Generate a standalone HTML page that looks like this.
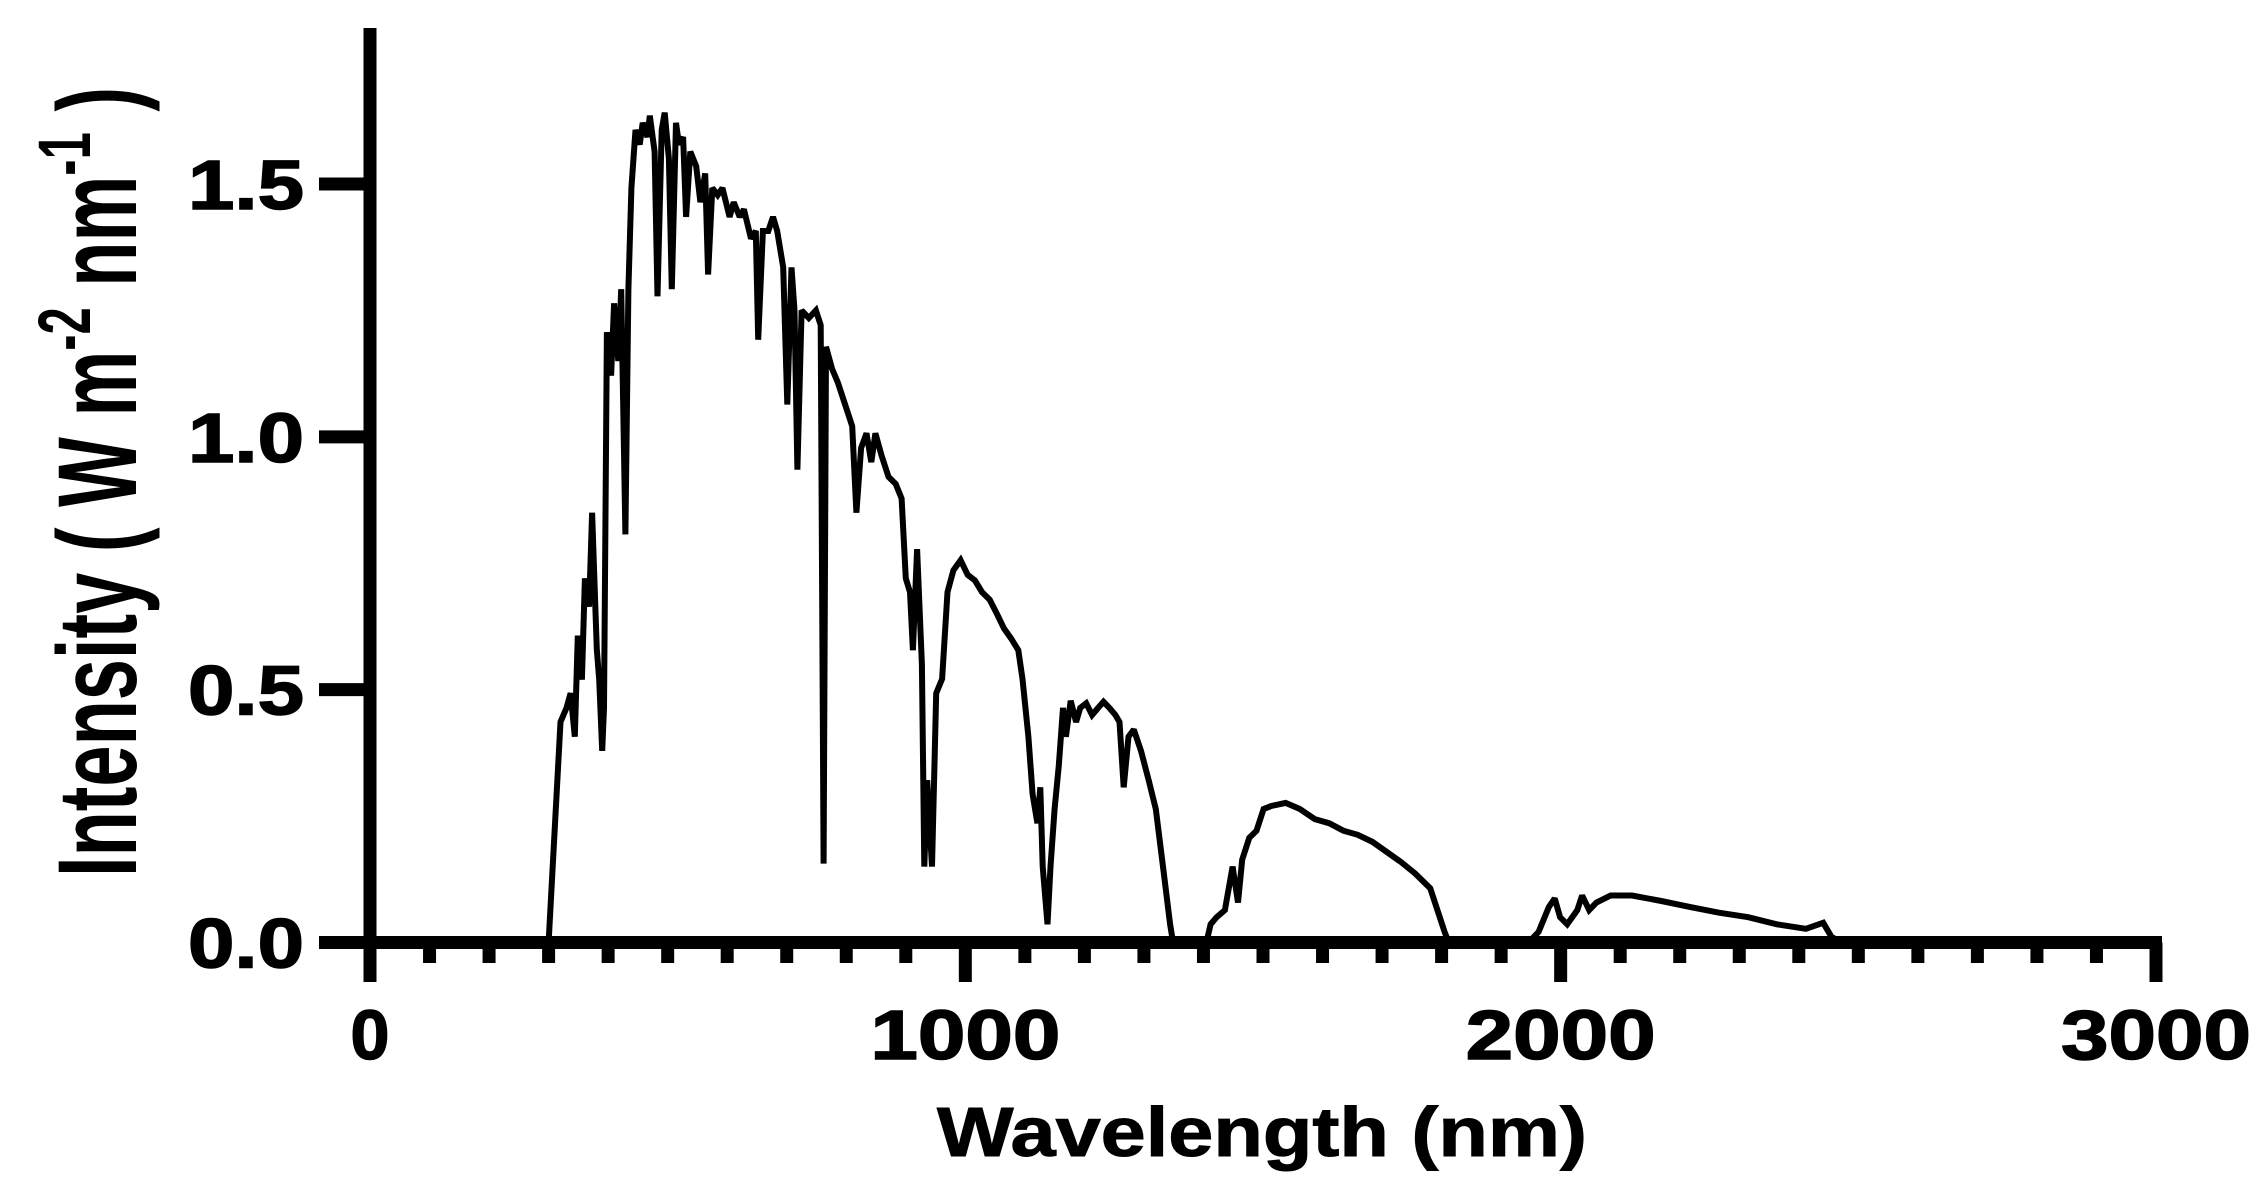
<!DOCTYPE html>
<html><head><meta charset="utf-8"><style>
html,body{margin:0;padding:0;background:#fff;}
svg{display:block;}
text{font-family:"Liberation Sans",Arial,sans-serif;font-weight:bold;fill:#000;}
</style></head><body>
<svg id="chart" width="2265" height="1193" viewBox="0 0 2265 1193" xmlns="http://www.w3.org/2000/svg">
<g id="axes"></g>
<g id="plot"></g>
<text x="1262" y="1156" text-anchor="middle" font-size="70" textLength="650" lengthAdjust="spacingAndGlyphs" stroke="#000" stroke-width="1">Wavelength (nm)</text>
<text transform="translate(136,482) rotate(-90)" text-anchor="middle" font-size="112" textLength="790" lengthAdjust="spacingAndGlyphs">Intensity ( W m<tspan font-size="74" dy="-46">-2</tspan><tspan dy="46"> nm</tspan><tspan font-size="74" dy="-46">-1</tspan><tspan dy="46"> )</tspan></text>
</svg>
<script>
const wavelengths = [300,320,330,337,344,349,356,361,368,373,381,385,390,393,398,405,410,417,422,429,434,439,446,453,458,466,470,478,483,490,495,502,507,514,519,526,531,538,548,555,563,568,575,584,592,604,611,621,628,640,648,652,660,669,677,684,694,701,708,713,718,725,737,749,757,762,766,776,786,798,810,817,825,834,842,849,859,871,883,893,900,907,912,919,927,931,936,944,951,961,970,980,992,1004,1016,1028,1041,1053,1065,1077,1089,1096,1106,1113,1121,1126,1130,1138,1143,1150,1157,1164,1169,1177,1186,1193,1203,1213,1223,1232,1242,1252,1259,1266,1274,1283,1295,1308,1320,1332,1344,1349,1405,1412,1422,1436,1449,1458,1465,1477,1489,1501,1514,1538,1562,1587,1611,1635,1659,1684,1708,1732,1756,1781,1793,1805,1812,1946,1963,1980,1990,1999,2011,2028,2036,2048,2060,2084,2120,2169,2218,2266,2315,2363,2412,2441,2455,2472];
const intensities = [0,0.436,0.464,0.493,0.407,0.607,0.52,0.72,0.664,0.85,0.58,0.52,0.379,0.464,1.207,1.121,1.264,1.15,1.292,0.807,1.292,1.492,1.607,1.578,1.621,1.593,1.635,1.564,1.278,1.607,1.641,1.55,1.292,1.621,1.578,1.593,1.435,1.564,1.535,1.464,1.521,1.321,1.492,1.478,1.492,1.435,1.464,1.435,1.45,1.392,1.407,1.192,1.407,1.407,1.435,1.407,1.335,1.064,1.335,1.25,0.935,1.25,1.235,1.25,1.221,0.156,1.178,1.135,1.107,1.064,1.021,0.85,0.978,1.007,0.95,1.007,0.964,0.921,0.907,0.878,0.72,0.693,0.578,0.778,0.55,0.15,0.321,0.15,0.493,0.521,0.693,0.736,0.756,0.727,0.716,0.693,0.678,0.65,0.621,0.601,0.578,0.521,0.407,0.293,0.236,0.307,0.15,0.036,0.15,0.264,0.35,0.464,0.407,0.478,0.436,0.464,0.473,0.45,0.464,0.476,0.464,0.45,0.436,0.307,0.407,0.421,0.379,0.321,0.264,0.15,0.036,0,0,0.036,0.05,0.064,0.15,0.079,0.164,0.207,0.221,0.264,0.27,0.276,0.264,0.244,0.236,0.221,0.213,0.199,0.179,0.159,0.136,0.107,0.064,0.021,0,0,0.021,0.07,0.087,0.05,0.036,0.064,0.093,0.064,0.079,0.093,0.093,0.082,0.07,0.059,0.05,0.036,0.027,0.039,0.011,0];
const xTickValues = [0,1000,2000,3000];
const xTickLabels = ["0","1000","2000","3000"];
const yTickValues = [0,0.5,1.0,1.5];
const yTickLabels = ["0.0","0.5","1.0","1.5"];

const NS = "http://www.w3.org/2000/svg";
const X0 = 370, X1 = 2156, Y0 = 942.5, Y15 = 184;
function xScale(v){ return X0 + (X1 - X0) * v / 3000; }
function yScale(v){ return Y0 + (Y15 - Y0) * v / 1.5; }
function mk(tag, attrs){ const e = document.createElementNS(NS, tag); for (const k in attrs) e.setAttribute(k, attrs[k]); return e; }
const axes = document.getElementById('axes');
const plot = document.getElementById('plot');

const yAxis = mk('line', {x1: X0, y1: 28, x2: X0, y2: 982, stroke: '#000', 'stroke-width': 13});


axes.appendChild(yAxis);
const xAxis = mk('line', {x1: 319, y1: Y0, x2: X1 + 6, y2: Y0, stroke: '#000', 'stroke-width': 13});


axes.appendChild(xAxis);

for (let nm = 100; nm < 3000; nm += 100) {
  if (nm % 1000 === 0) continue;
  const t = mk('line', {x1: xScale(nm), y1: Y0, x2: xScale(nm), y2: 963, stroke: '#000', 'stroke-width': 13});
  
  
  axes.appendChild(t);
}
xTickValues.forEach((v, i) => {
  const t = mk('line', {x1: xScale(v), y1: Y0, x2: xScale(v), y2: 982, stroke: '#000', 'stroke-width': 13});
  
  
  axes.appendChild(t);
  const lab = mk('text', {x: xScale(v), y: 1059, 'text-anchor': 'middle', 'font-size': 70, stroke: '#000', 'stroke-width': 1.5});
  if (xTickLabels[i].length > 1) { lab.setAttribute('textLength', 190); lab.setAttribute('lengthAdjust', 'spacingAndGlyphs'); }
  lab.textContent = xTickLabels[i];
  
  
  axes.appendChild(lab);
});
yTickValues.forEach((v, i) => {
  const t = mk('line', {x1: 319, y1: yScale(v), x2: X0, y2: yScale(v), stroke: '#000', 'stroke-width': 13});
  
  
  axes.appendChild(t);
  const lab = mk('text', {x: 246, y: yScale(v) + 25, 'text-anchor': 'middle', 'font-size': 70, textLength: 116, lengthAdjust: 'spacingAndGlyphs', stroke: '#000', 'stroke-width': 1.5});
  lab.textContent = yTickLabels[i];
  
  
  axes.appendChild(lab);
});

let d = '';
wavelengths.forEach((w, i) => {
  d += (i ? 'L' : 'M') + xScale(w).toFixed(1) + ',' + yScale(intensities[i]).toFixed(1);
});
const line = mk('path', {d: d, fill: 'none', stroke: '#000', 'stroke-width': 6, 'stroke-linejoin': 'miter', 'stroke-miterlimit': 2});


plot.appendChild(line);
</script>
</body></html>
